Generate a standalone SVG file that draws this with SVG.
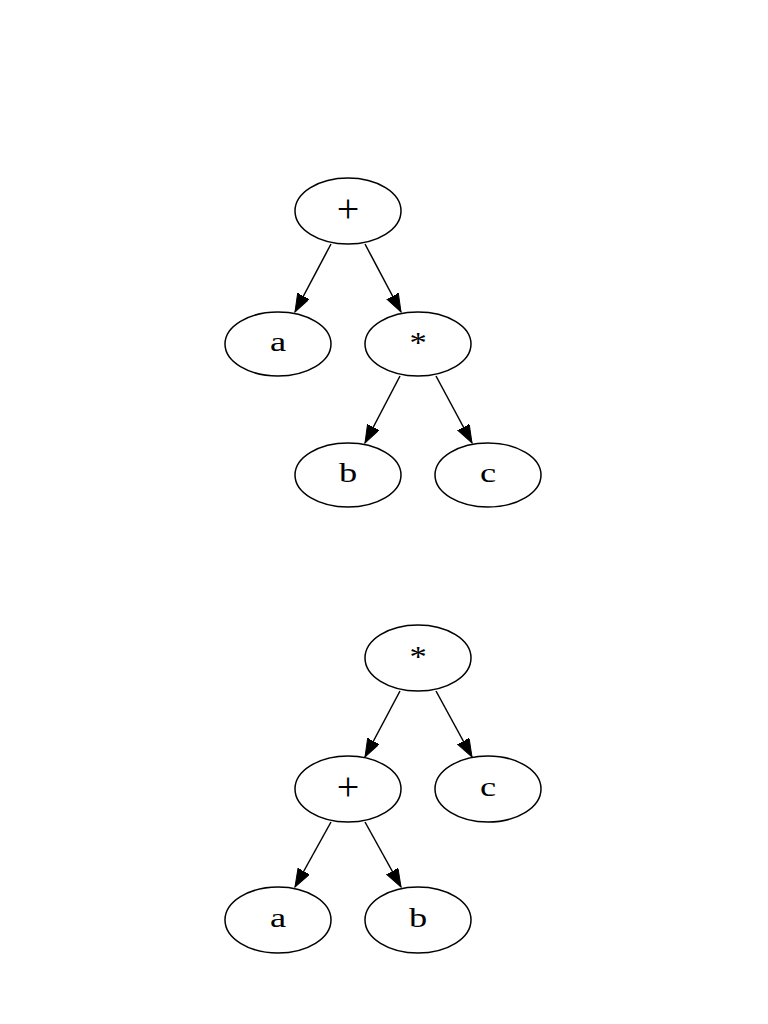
<svg xmlns="http://www.w3.org/2000/svg" width="768" height="1024" viewBox="0 0 768 1024">
<style>
ellipse.n{fill:#fff;stroke:#000;stroke-width:1.5}
line.e{stroke:#000;stroke-width:1.5}
</style>
<defs>
<marker id="ah" markerUnits="userSpaceOnUse" markerWidth="20" markerHeight="14" refX="18" refY="6.5" orient="auto">
<path d="M0,0 L18,6.5 L0,13 Z" fill="#000" stroke="#000" stroke-width="1"/>
</marker>
</defs>
<rect width="768" height="1024" fill="#fff"/>
<g id="edges">
<line class="e" marker-end="url(#ah)" x1="331" y1="244" x2="295" y2="312"/>
<line class="e" marker-end="url(#ah)" x1="365" y1="244" x2="401" y2="312"/>
<line class="e" marker-end="url(#ah)" x1="400" y1="376" x2="365" y2="443"/>
<line class="e" marker-end="url(#ah)" x1="436" y1="376" x2="472" y2="443"/>
<line class="e" marker-end="url(#ah)" x1="400" y1="691" x2="365" y2="757"/>
<line class="e" marker-end="url(#ah)" x1="436" y1="691" x2="472" y2="757"/>
<line class="e" marker-end="url(#ah)" x1="331" y1="822" x2="295" y2="887"/>
<line class="e" marker-end="url(#ah)" x1="365" y1="822" x2="401" y2="887"/>
</g>
<g font-family="Liberation Serif, DejaVu Serif, serif" font-size="28" text-anchor="middle" fill="#000">
<g id="t1_plus"><ellipse class="n" cx="348" cy="211" rx="53" ry="33"/><text font-size="40" transform="translate(348,222)">+</text></g>
<g id="t1_a"><ellipse class="n" cx="278" cy="344" rx="53" ry="32"/><text transform="translate(278,351) scale(1.3,1)">a</text></g>
<g id="t1_mul"><ellipse class="n" cx="418" cy="344" rx="53" ry="32"/><text font-size="30" transform="translate(418,352) scale(1.15,1)">*</text></g>
<g id="t1_b"><ellipse class="n" cx="348" cy="475" rx="53" ry="32"/><text transform="translate(348,482) scale(1.3,1)">b</text></g>
<g id="t1_c"><ellipse class="n" cx="488" cy="475" rx="53" ry="32"/><text transform="translate(488,482) scale(1.3,1)">c</text></g>
<g id="t2_mul"><ellipse class="n" cx="418" cy="658" rx="53" ry="33"/><text font-size="30" transform="translate(418,666) scale(1.15,1)">*</text></g>
<g id="t2_plus"><ellipse class="n" cx="348" cy="789" rx="53" ry="33"/><text font-size="40" transform="translate(348,800)">+</text></g>
<g id="t2_c"><ellipse class="n" cx="488" cy="789" rx="53" ry="33"/><text transform="translate(488,796) scale(1.3,1)">c</text></g>
<g id="t2_a"><ellipse class="n" cx="278" cy="920" rx="53" ry="33"/><text transform="translate(278,927) scale(1.3,1)">a</text></g>
<g id="t2_b"><ellipse class="n" cx="418" cy="920" rx="53" ry="33"/><text transform="translate(418,927) scale(1.3,1)">b</text></g>
</g>
</svg>
